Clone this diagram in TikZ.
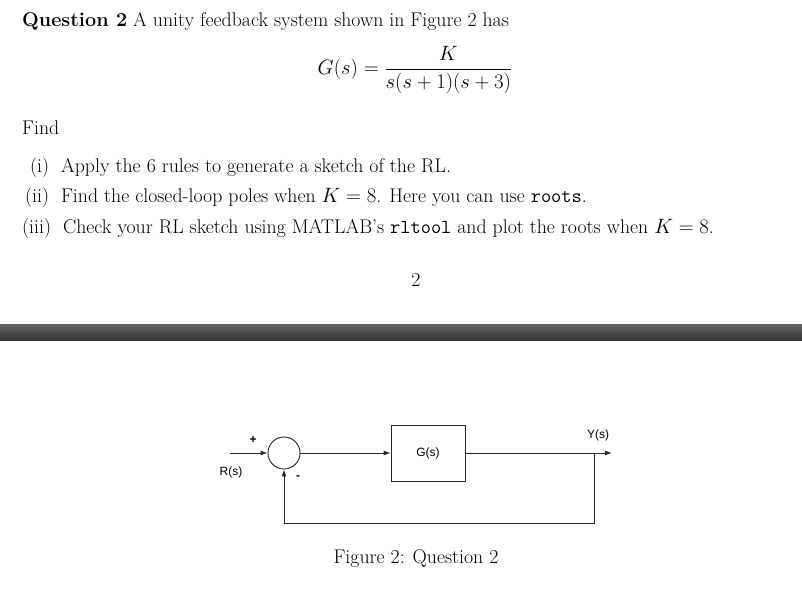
\documentclass[tikz,border=0pt]{standalone}
\usepackage{fontspec}
\newfontfamily\arialf{Liberation Sans}
\usetikzlibrary{arrows.meta}
\begin{document}
\begin{tikzpicture}[x=1pt,y=-1pt,
  doc/.style={anchor=base west,inner sep=0pt,font=\fontsize{19.8}{24}\selectfont},
  lbl/.style={inner sep=0pt,font=\arialf\fontsize{12}{14}\selectfont},
  ln/.style={line width=0.9pt,draw=black!85},
  arr/.style={ln,-{Latex[length=7pt,width=5pt]}}]
\useasboundingbox (0,0) rectangle (802,589);
\fill[white] (0,0) rectangle (802,589);
% bar
\shade[top color=black!60,bottom color=black!80] (0,324) rectangle (802,340);
% text
\node[doc] (q) at (22,26) {\textbf{Question 2} A unity feedback system shown in Figure 2 has};
\node[doc,anchor=center] (eq) at (415,70) {$\displaystyle G(s)=\frac{K}{s(s+1)(s+3)}$};
\node[doc] (find) at (22,134) {Find};
\node[doc] (i1) at (30,172) {(i)\ \ Apply the 6 rules to generate a sketch of the RL.};
\node[doc] (i2) at (25,202) {(ii)\ \ Find the closed-loop poles when $K=8$. Here you can use \texttt{roots}.};
\node[doc] (i3) at (22,233) {(iii)\ \ Check your RL sketch using MATLAB's \texttt{rltool} and plot the roots when $K=8$.};
\node[doc,anchor=center] (pg) at (416,280) {2};
\node[doc,anchor=center] (cap) at (416,559) {Figure 2: Question 2};
% block diagram
\coordinate (in) at (230,453);
\node[draw,ln,circle,minimum size=32pt,inner sep=0pt] (sum) at (284,453) {};
\node[draw,ln,minimum width=74pt,minimum height=56pt,inner sep=0pt,lbl] (G) at (428,453) {G(s)};
\coordinate (br) at (594,453);
\coordinate (out) at (612,453);
\coordinate (bl) at (594,523);
\coordinate (fb) at (284,523);
\draw[arr] (in) -- (sum.west);
\draw[arr] (sum.east) -- (G.west);
\draw[arr] (G.east) -- (out);
\draw[arr] (br) -- (bl) -- (fb) -- (sum.south);
\node[lbl,font=\arialf\bfseries\fontsize{12}{14}\selectfont] (plus) at (253,440) {+};
\node[lbl,font=\arialf\bfseries\fontsize{12}{14}\selectfont] (minus) at (298,478) {-};
\node[lbl] (R) at (231,472) {R(s)};
\node[lbl] (Y) at (598,435) {Y(s)};
\end{tikzpicture}
\end{document}
